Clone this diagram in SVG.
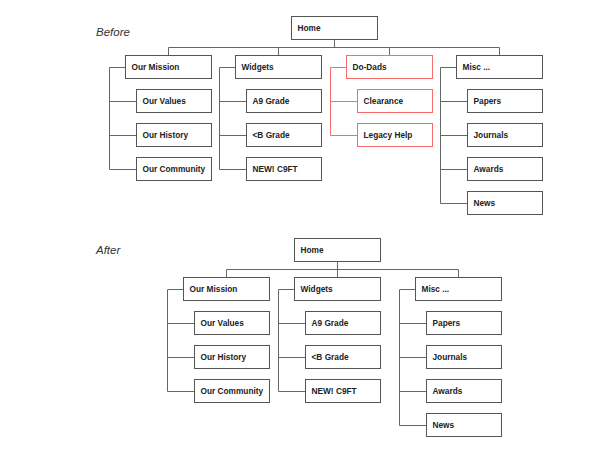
<svg xmlns="http://www.w3.org/2000/svg" width="600" height="450" viewBox="0 0 600 450">
<style>
.b{fill:#fff;stroke:#555;stroke-width:1}
.r{fill:#fff;stroke:#f76b6b;stroke-width:1}
.t{font-family:"Liberation Sans",Arial,sans-serif;font-size:8.3px;font-weight:bold;fill:#222}
.lbl{font-family:"Liberation Sans",Arial,sans-serif;font-size:11.5px;font-style:italic;fill:#333}
.c{fill:none;stroke:#666;stroke-width:1}
.cr{fill:none;stroke:#f76b6b;stroke-width:1}
</style>
<rect width="600" height="450" fill="#fff"/>
<text class="lbl" x="96" y="35.8">Before</text>
<text class="lbl" x="96" y="254">After</text>
<g id="connectors">
<path class="c" d="M334.5 39.5V47.5M168.5 55.5V47.5H499.5V55.5M278.5 47.5V55.5M389.5 47.5V55.5"/>
<path class="c" d="M125.5 67.5H109.5V169.5H136.5M109.5 101.5H136.5M109.5 135.5H136.5"/>
<path class="c" d="M235.5 67.5H219.5V169.5H246.5M219.5 101.5H246.5M219.5 135.5H246.5"/>
<path class="cr" d="M346.5 67.5H330.5V135.5H357.5M330.5 101.5H357.5"/>
<path class="c" d="M456.5 67.5H440.5V203.5H467.5M440.5 101.5H467.5M440.5 135.5H467.5M440.5 169.5H467.5"/>
<path class="c" d="M337.5 261.5V277.5M226.5 277.5V269.5H458.5V277.5"/>
<path class="c" d="M183.5 289.5H167.5V391.5H194.5M167.5 323.5H194.5M167.5 357.5H194.5"/>
<path class="c" d="M294.5 289.5H278.5V391.5H305.5M278.5 323.5H305.5M278.5 357.5H305.5"/>
<path class="c" d="M415.5 289.5H399.5V425.5H426.5M399.5 323.5H426.5M399.5 357.5H426.5M399.5 391.5H426.5"/>
</g>
<g id="b-home"><rect class="b" x="291.5" y="16.5" width="86" height="23"/><text class="t" x="297.5" y="31">Home</text></g>
<g id="b-mission"><rect class="b" x="125.5" y="55.5" width="86" height="23"/><text class="t" x="131.5" y="70">Our Mission</text></g>
<g id="b-values"><rect class="b" x="136.5" y="89.5" width="75" height="23"/><text class="t" x="142.5" y="104">Our Values</text></g>
<g id="b-history"><rect class="b" x="136.5" y="123.5" width="75" height="23"/><text class="t" x="142.5" y="138">Our History</text></g>
<g id="b-community"><rect class="b" x="136.5" y="157.5" width="75" height="23"/><text class="t" x="142.5" y="172">Our Community</text></g>
<g id="b-widgets"><rect class="b" x="235.5" y="55.5" width="86" height="23"/><text class="t" x="241.5" y="70">Widgets</text></g>
<g id="b-a9"><rect class="b" x="246.5" y="89.5" width="75" height="23"/><text class="t" x="252.5" y="104">A9 Grade</text></g>
<g id="b-b"><rect class="b" x="246.5" y="123.5" width="75" height="23"/><text class="t" x="252.5" y="138">&lt;B Grade</text></g>
<g id="b-new"><rect class="b" x="246.5" y="157.5" width="75" height="23"/><text class="t" x="252.5" y="172">NEW! C9FT</text></g>
<g id="b-dodads"><rect class="r" x="346.5" y="55.5" width="86" height="23"/><text class="t" x="352.5" y="70">Do-Dads</text></g>
<g id="b-clearance"><rect class="r" x="357.5" y="89.5" width="75" height="23"/><text class="t" x="363.5" y="104">Clearance</text></g>
<g id="b-legacy"><rect class="r" x="357.5" y="123.5" width="75" height="23"/><text class="t" x="363.5" y="138">Legacy Help</text></g>
<g id="b-misc"><rect class="b" x="456.5" y="55.5" width="86" height="23"/><text class="t" x="462.5" y="70">Misc ...</text></g>
<g id="b-papers"><rect class="b" x="467.5" y="89.5" width="75" height="23"/><text class="t" x="473.5" y="104">Papers</text></g>
<g id="b-journals"><rect class="b" x="467.5" y="123.5" width="75" height="23"/><text class="t" x="473.5" y="138">Journals</text></g>
<g id="b-awards"><rect class="b" x="467.5" y="157.5" width="75" height="23"/><text class="t" x="473.5" y="172">Awards</text></g>
<g id="b-news"><rect class="b" x="467.5" y="191.5" width="75" height="23"/><text class="t" x="473.5" y="206">News</text></g>
<g id="a-home"><rect class="b" x="294.5" y="238.5" width="86" height="23"/><text class="t" x="300.5" y="253">Home</text></g>
<g id="a-mission"><rect class="b" x="183.5" y="277.5" width="86" height="23"/><text class="t" x="189.5" y="292">Our Mission</text></g>
<g id="a-values"><rect class="b" x="194.5" y="311.5" width="75" height="23"/><text class="t" x="200.5" y="326">Our Values</text></g>
<g id="a-history"><rect class="b" x="194.5" y="345.5" width="75" height="23"/><text class="t" x="200.5" y="360">Our History</text></g>
<g id="a-community"><rect class="b" x="194.5" y="379.5" width="75" height="23"/><text class="t" x="200.5" y="394">Our Community</text></g>
<g id="a-widgets"><rect class="b" x="294.5" y="277.5" width="86" height="23"/><text class="t" x="300.5" y="292">Widgets</text></g>
<g id="a-a9"><rect class="b" x="305.5" y="311.5" width="75" height="23"/><text class="t" x="311.5" y="326">A9 Grade</text></g>
<g id="a-b"><rect class="b" x="305.5" y="345.5" width="75" height="23"/><text class="t" x="311.5" y="360">&lt;B Grade</text></g>
<g id="a-new"><rect class="b" x="305.5" y="379.5" width="75" height="23"/><text class="t" x="311.5" y="394">NEW! C9FT</text></g>
<g id="a-misc"><rect class="b" x="415.5" y="277.5" width="86" height="23"/><text class="t" x="421.5" y="292">Misc ...</text></g>
<g id="a-papers"><rect class="b" x="426.5" y="311.5" width="75" height="23"/><text class="t" x="432.5" y="326">Papers</text></g>
<g id="a-journals"><rect class="b" x="426.5" y="345.5" width="75" height="23"/><text class="t" x="432.5" y="360">Journals</text></g>
<g id="a-awards"><rect class="b" x="426.5" y="379.5" width="75" height="23"/><text class="t" x="432.5" y="394">Awards</text></g>
<g id="a-news"><rect class="b" x="426.5" y="413.5" width="75" height="23"/><text class="t" x="432.5" y="428">News</text></g>
</svg>
